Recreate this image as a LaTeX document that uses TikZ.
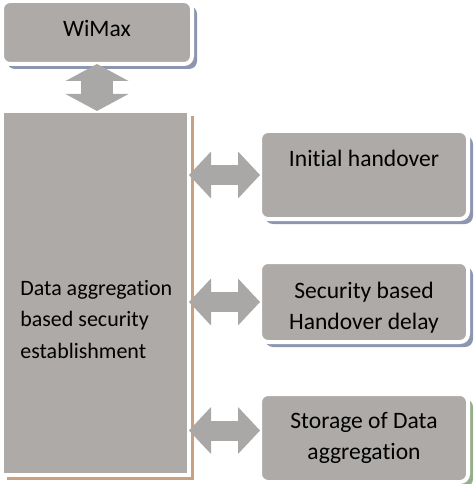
\documentclass[tikz,border=0pt]{standalone}
\usepackage{fontspec}
\setmainfont{Carlito}[Ligatures=NoCommon]
\usepackage{xcolor}
\usepackage{tikz}
\usetikzlibrary{shapes,arrows.meta,positioning,shadows}

\definecolor{boxgray}{RGB}{173,170,168}
\definecolor{arrowgray}{RGB}{170,168,166}
\definecolor{shadowblue}{RGB}{140,150,176}
\definecolor{shadowtan}{RGB}{201,160,128}
\definecolor{shadowgreen}{RGB}{150,174,140}

\begin{document}
\begin{tikzpicture}[
        blockbox/.style={
            rectangle,
            fill=boxgray,
            draw=white,
            line width=0.08cm,
            inner sep=0pt,
            outer sep=0pt
        },
        roundbox/.style={
            blockbox,
            rounded corners=0.16cm
        },
        blueshadow/.style={
            drop shadow={shadow xshift=0.1cm, shadow yshift=-0.1cm, fill=shadowblue, opacity=1}
        },
        boxtext/.style={
            anchor=north,
            inner sep=0pt,
            align=center,
            text=black,
            font=\fontsize{13.4pt}{17.6pt}\selectfont
        },
        maintext/.style={
            boxtext,
            anchor=north west,
            align=left,
            font=\fontsize{12.5pt}{17.8pt}\selectfont
        },
        vblockarrow/.style={
            draw=arrowgray,
            line width=0.64cm,
            {Triangle[length=0.34cm,width=1.26cm,line width=0pt]}-{Triangle[length=0.34cm,width=1.26cm,line width=0pt]}
        },
        hblockarrow/.style={
            draw=arrowgray,
            line width=0.40cm,
            {Triangle[length=0.44cm,width=0.94cm,line width=0pt]}-{Triangle[length=0.44cm,width=0.94cm,line width=0pt]}
        }
    ]
                \useasboundingbox (0,0) rectangle (9.48,-9.68);

                % left column
                \node[
                    roundbox,
                    blueshadow,
                    minimum width=3.80cm,
                    minimum height=1.26cm,
                    label={[boxtext, yshift=-0.38cm]north:WiMax}
                    ] (wimax) at (1.94,-0.65) {};

                \node[
                    blockbox,
                    drop shadow={shadow xshift=0.1cm, shadow yshift=-0.1cm, fill=shadowtan, opacity=1},
                    minimum width=3.74cm,
                    minimum height=7.28cm,
                    label={[maintext, xshift=0.36cm, yshift=-3.38cm]north west:Data aggregation\\based security\\establishment}
                    ] (main) at (1.91,-5.86) {};

                % right column
                \node[
                    roundbox,
                    blueshadow,
                    minimum width=4.16cm,
                    minimum height=1.76cm,
                    label={[boxtext, yshift=-0.38cm]north:Initial handover}
                    ] (init) at (7.28,-3.50) {};

                \node[
                    roundbox,
                    blueshadow,
                    minimum width=4.16cm,
                    minimum height=1.60cm,
                    label={[boxtext, yshift=-0.40cm]north:Security based\\Handover delay}
                    ] (secdelay) at (7.28,-6.04) {};

                \node[
                    roundbox,
                    drop shadow={shadow xshift=0.1cm, shadow yshift=-0.1cm, fill=shadowgreen, opacity=1},
                    minimum width=4.16cm,
                    minimum height=1.76cm,
                    label={[boxtext, yshift=-0.36cm]north:Storage of Data\\aggregation}
                    ] (store) at (7.28,-8.76) {};

                % block arrows
                \draw[vblockarrow] (wimax.south) to (wimax.south |- main.north);

                \draw[hblockarrow] (main.east |- init.west) to (init.west);

                \draw[hblockarrow] (main.east |- secdelay.west) to (secdelay.west);

                \draw[hblockarrow] ([yshift=0.15cm]store.west -| main.east) to ([yshift=0.15cm]store.west);

\end{tikzpicture}
\end{document}
